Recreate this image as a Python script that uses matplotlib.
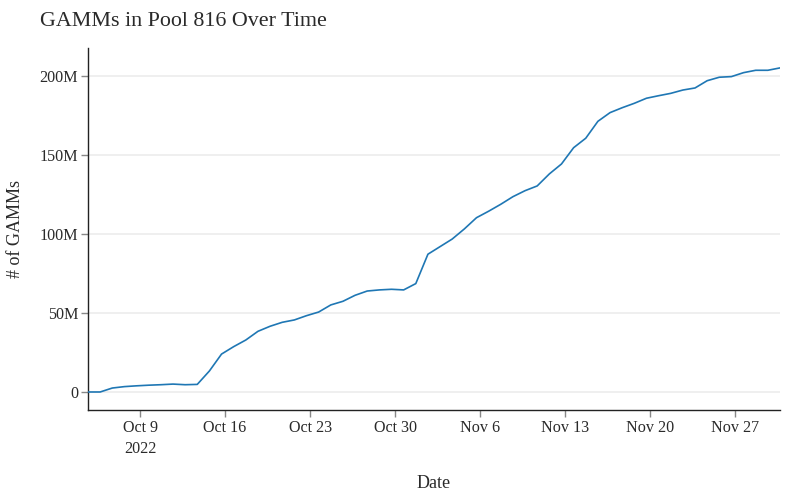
import numpy as np
import pandas as pd
import matplotlib
matplotlib.use("Agg")
import matplotlib.pyplot as plt

# daily snapshots (taken late in the day), values in millions of GAMMs
dates = pd.date_range("2022-10-04 17:00", "2022-11-30 17:00", freq="D")
gamms_m = [
    0.0, 0.0, 2.5, 3.4, 3.9, 4.3, 4.6, 5.0, 4.6, 4.8,
    13.3, 24.0, 28.7, 32.9, 38.4, 41.6, 44.1, 45.6, 48.3, 50.6,
    55.1, 57.4, 61.2, 63.9, 64.6, 65.0, 64.6, 68.6, 87.2, 92.0,
    96.8, 103.2, 110.3, 114.4, 118.8, 123.6, 127.4, 130.4, 138.0, 144.3,
    154.6, 160.6, 171.3, 176.8, 179.9, 182.7, 185.9, 187.5, 189.0, 191.1,
    192.4, 197.0, 199.2, 199.6, 202.1, 203.6, 203.6, 205.1,
]
tick_dates = pd.to_datetime(["2022-10-09", "2022-10-16", "2022-10-23", "2022-10-30",
                             "2022-11-06", "2022-11-13", "2022-11-20", "2022-11-27"])
tick_labels = ["Oct 9\n2022", "Oct 16", "Oct 23", "Oct 30",
               "Nov 6", "Nov 13", "Nov 20", "Nov 27"]
y_ticks = [0, 50, 100, 150, 200]
y_labels = ["0", "50M", "100M", "150M", "200M"]

plt.rcParams['font.family'] = ['Liberation Serif', 'DejaVu Serif']

fig = plt.figure(figsize=(8, 5), dpi=100)
ax = fig.add_axes([0.11, 0.18, 0.865, 0.724])

ax.plot(dates, np.array(gamms_m), color="#1f77b4", linewidth=1.2, zorder=3)

ax.set_xlim(dates[0], dates[-1])
ax.set_ylim(-11.4, 217.7)

ax.set_xticks(tick_dates)
ax.set_xticklabels(tick_labels, fontsize=11.6, color="#2a2a2a", linespacing=1.45)
ax.set_yticks(y_ticks)
ax.set_yticklabels(y_labels, fontsize=11.6, color="#2a2a2a")

ax.grid(axis="y", color="#ececec", linewidth=1.2, zorder=0)
ax.tick_params(axis="both", direction="out", length=5, width=1, color="#888888", pad=2)

for side in ["top", "right"]:
    ax.spines[side].set_visible(False)
for side in ["left", "bottom"]:
    ax.spines[side].set_color("#222222")
    ax.spines[side].set_linewidth(1.0)

ax.set_xlabel("Date", fontsize=13, color="#2a2a2a", labelpad=13)
ax.set_ylabel("# of GAMMs", fontsize=13, color="#2a2a2a", labelpad=11)

fig.text(0.05, 0.958, "GAMMs in Pool 816 Over Time", fontsize=15.8, color="#2a2a2a",
         ha="left", va="center")

fig.savefig("out.png", dpi=100)
